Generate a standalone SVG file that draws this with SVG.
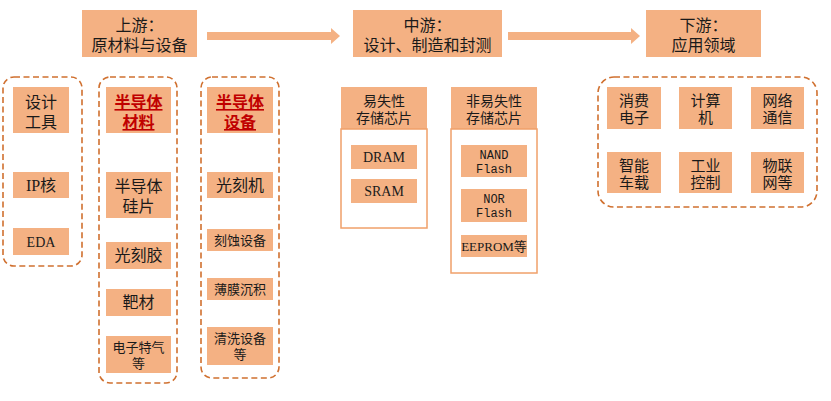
<svg xmlns="http://www.w3.org/2000/svg" width="831" height="401" viewBox="0 0 831 401">
<style>
.b{fill:#F4B183;}
.g{fill:none;stroke:#D0702F;stroke-width:1.6;stroke-dasharray:6 3.5;}
.o{fill:none;stroke:#F0A06A;stroke-width:1.5;}
text{font-family:"Liberation Serif","Noto Sans CJK SC",serif;fill:#1a1a1a;text-anchor:middle;}
.t16{font-size:16px;}
.t15{font-size:15px;}
.t14{font-size:14px;}
.t13{font-size:13px;}
.m{font-family:"Liberation Mono","Noto Sans CJK SC",monospace;font-size:12px;}
.r{fill:#C00000;font-weight:bold;text-decoration:underline;font-size:16px;}
</style>
<rect width="831" height="401" fill="#fff"/>
<g id="connectors">
<polygon class="b" points="207,32 331,32 331,28 340,36 331,44 331,40 207,40"/>
<polygon class="b" points="508,32 631,32 631,28 640,36 631,44 631,40 508,40"/>
</g>
<g id="upstream"><rect class="b" x="82" y="10" width="115" height="47"/><text class="t16" x="139.5" y="31">上游：</text><text class="t16" x="139.5" y="51">原材料与设备</text></g>
<g id="midstream"><rect class="b" x="353" y="10" width="149" height="47"/><text class="t16" x="427.5" y="31">中游：</text><text class="t16" x="427.5" y="51">设计、制造和封测</text></g>
<g id="downstream"><rect class="b" x="646" y="10" width="115" height="47"/><text class="t16" x="703.5" y="31">下游：</text><text class="t16" x="703.5" y="51">应用领域</text></g>

<g id="group-design"><rect class="g" x="3" y="77" width="79" height="189" rx="11"/></g>
<g id="group-material"><rect class="g" x="99" y="77" width="78" height="306" rx="11"/></g>
<g id="group-equip"><rect class="g" x="201" y="77" width="78" height="301" rx="11"/></g>
<g id="group-apps"><rect class="g" x="598" y="77" width="219" height="130" rx="16"/></g>

<g id="n-design-tools"><rect class="b" x="13" y="87" width="56" height="46"/><text class="t16" x="41" y="108">设计</text><text class="t16" x="41" y="128">工具</text></g>
<g id="n-ip"><rect class="b" x="13" y="172" width="56" height="26"/><text class="t16" x="41" y="191">IP核</text></g>
<g id="n-eda"><rect class="b" x="13" y="228" width="56" height="27"/><text class="t14" x="41" y="246.5">EDA</text></g>

<g id="n-semi-material"><rect class="b" x="106" y="87" width="65" height="46"/><text class="r" x="138.5" y="108">半导体</text><text class="r" x="138.5" y="128">材料</text></g>
<g id="n-wafer"><rect class="b" x="106" y="172" width="65" height="46"/><text class="t16" x="138.5" y="192">半导体</text><text class="t16" x="138.5" y="212">硅片</text></g>
<g id="n-photoresist"><rect class="b" x="106" y="242" width="65" height="27"/><text class="t16" x="138.5" y="261">光刻胶</text></g>
<g id="n-target"><rect class="b" x="106" y="289" width="65" height="27"/><text class="t16" x="138.5" y="308">靶材</text></g>
<g id="n-gas"><rect class="b" x="106" y="336" width="65" height="37"/><text class="t13" x="138.5" y="352">电子特气</text><text class="t13" x="138.5" y="368">等</text></g>

<g id="n-semi-equip"><rect class="b" x="207" y="87" width="66" height="46"/><text class="r" x="240" y="108">半导体</text><text class="r" x="240" y="128">设备</text></g>
<g id="n-litho"><rect class="b" x="207" y="172" width="66" height="26"/><text class="t16" x="240" y="191">光刻机</text></g>
<g id="n-etch"><rect class="b" x="207" y="229" width="66" height="22"/><text class="t13" x="240" y="244.5">刻蚀设备</text></g>
<g id="n-film"><rect class="b" x="207" y="278" width="66" height="22"/><text class="t13" x="240" y="293.5">薄膜沉积</text></g>
<g id="n-clean"><rect class="b" x="207" y="327" width="66" height="38"/><text class="t13" x="240" y="343">清洗设备</text><text class="t13" x="240" y="359">等</text></g>

<g id="n-volatile"><rect class="b" x="341" y="87" width="86" height="42"/><text class="t14" x="384" y="106">易失性</text><text class="t14" x="384" y="123">存储芯片</text><rect class="o" x="341" y="129" width="86" height="99"/></g>
<g id="n-dram"><rect class="b" x="351" y="145" width="66" height="24"/><text class="t14" x="384" y="162">DRAM</text></g>
<g id="n-sram"><rect class="b" x="351" y="179" width="66" height="24"/><text class="t14" x="384" y="196">SRAM</text></g>

<g id="n-nonvolatile"><rect class="b" x="451" y="87" width="86" height="42"/><text class="t14" x="494" y="106">非易失性</text><text class="t14" x="494" y="123">存储芯片</text><rect class="o" x="451" y="129" width="86" height="144"/></g>
<g id="n-nand"><rect class="b" x="461" y="145" width="66" height="32"/><text class="m" x="494" y="159">NAND</text><text class="m" x="494" y="173">Flash</text></g>
<g id="n-nor"><rect class="b" x="461" y="189" width="66" height="33"/><text class="m" x="494" y="203">NOR</text><text class="m" x="494" y="217">Flash</text></g>
<g id="n-eeprom"><rect class="b" x="461" y="235" width="66" height="22"/><text class="t13" x="494" y="250.5">EEPROM等</text></g>

<g id="n-consumer"><rect class="b" x="607" y="87" width="54" height="42"/><text class="t15" x="634" y="106">消费</text><text class="t15" x="634" y="123">电子</text></g>
<g id="n-computer"><rect class="b" x="679" y="87" width="53" height="42"/><text class="t15" x="705.5" y="106">计算</text><text class="t15" x="705.5" y="123">机</text></g>
<g id="n-network"><rect class="b" x="751" y="87" width="53" height="42"/><text class="t15" x="777.5" y="106">网络</text><text class="t15" x="777.5" y="123">通信</text></g>
<g id="n-auto"><rect class="b" x="607" y="152" width="54" height="41"/><text class="t15" x="634" y="171">智能</text><text class="t15" x="634" y="188">车载</text></g>
<g id="n-industry"><rect class="b" x="679" y="152" width="53" height="41"/><text class="t15" x="705.5" y="171">工业</text><text class="t15" x="705.5" y="188">控制</text></g>
<g id="n-iot"><rect class="b" x="751" y="152" width="53" height="41"/><text class="t15" x="777.5" y="171">物联</text><text class="t15" x="777.5" y="188">网等</text></g>
</svg>
